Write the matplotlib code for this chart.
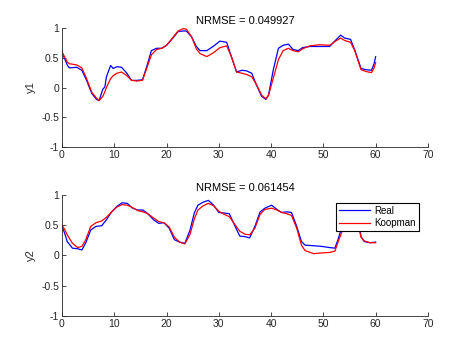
import matplotlib
matplotlib.use("Agg")
import matplotlib.pyplot as plt

plt.rcParams['font.family'] = ['Liberation Sans', 'DejaVu Sans']

# ---- Data ----
t1 = [0, 1, 1.4, 2.8, 3.8, 4.7, 5.7, 6.6, 7.1, 7.8, 8.2, 8.5, 9.3, 9.8, 10.5, 11.4, 12.4, 13.3,
      14.3, 15.4, 16.2, 17.1, 18.1, 19.1, 20.0, 21.3, 22.2, 23.2, 23.8, 24.8, 25.7, 26.4, 27.7,
      28.9, 30.2, 31.5, 32.4, 33.4, 34.4, 35.3, 36.3, 37.2, 38.2, 39.0, 39.5, 40.4, 41.4, 42.3,
      43.3, 44.2, 45.2, 46.0, 47.4, 49.3, 51.2, 52.5, 53.3, 54.1, 55.2, 56.0, 57.2, 58.1, 59.2,
      59.7, 60.0]
y1_real = [0.59, 0.38, 0.33, 0.34, 0.29, 0.12, -0.10, -0.20, -0.22, -0.03, 0.01, 0.18, 0.37, 0.32,
           0.35, 0.34, 0.24, 0.12, 0.12, 0.13, 0.35, 0.62, 0.66, 0.66, 0.71, 0.84, 0.94, 0.95, 0.95,
           0.85, 0.69, 0.62, 0.62, 0.69, 0.78, 0.76, 0.52, 0.26, 0.29, 0.28, 0.24, 0.04, -0.15,
           -0.20, -0.13, 0.29, 0.66, 0.71, 0.73, 0.64, 0.62, 0.67, 0.69, 0.69, 0.69, 0.81, 0.88,
           0.83, 0.81, 0.63, 0.32, 0.30, 0.29, 0.40, 0.52]
y1_koop = [0.60, 0.43, 0.40, 0.38, 0.33, 0.15, -0.08, -0.18, -0.22, -0.15, -0.07, 0.0, 0.15, 0.20,
           0.24, 0.26, 0.20, 0.12, 0.11, 0.12, 0.32, 0.55, 0.64, 0.66, 0.71, 0.85, 0.95, 0.99, 0.98,
           0.85, 0.65, 0.57, 0.52, 0.58, 0.67, 0.70, 0.52, 0.26, 0.24, 0.22, 0.18, 0.05, -0.13,
           -0.19, -0.13, 0.15, 0.47, 0.62, 0.66, 0.62, 0.60, 0.65, 0.70, 0.72, 0.71, 0.79, 0.83,
           0.79, 0.76, 0.62, 0.30, 0.27, 0.25, 0.33, 0.42]

t2 = [0, 0.5, 1, 2, 3, 3.8, 4.5, 5.5, 6.5, 7.6, 8.5, 9.5, 10.5, 11.5, 12.5, 13.5, 14.5, 15.5, 16.4,
      17.5, 18.5, 19.5, 20.5, 21.5, 22.5, 23.5, 24.5, 25.3, 26, 27, 28, 29, 30, 31, 32, 33, 34, 35,
      35.9, 36.9, 37.9, 38.8, 40.1, 41.1, 42.0, 43.0, 43.9, 44.9, 45.8, 46.5, 48.1, 49.6, 51.2,
      52.2, 52.8, 53.8, 55.0, 56.0, 56.8, 57.2, 57.8, 58.9, 60.0]
y2_real = [0.48, 0.37, 0.23, 0.12, 0.11, 0.09, 0.20, 0.42, 0.48, 0.49, 0.59, 0.72, 0.81, 0.87, 0.86,
           0.78, 0.75, 0.75, 0.69, 0.59, 0.53, 0.54, 0.45, 0.26, 0.22, 0.20, 0.42, 0.70, 0.83, 0.88,
           0.91, 0.83, 0.71, 0.70, 0.69, 0.50, 0.32, 0.31, 0.29, 0.48, 0.72, 0.78, 0.83, 0.76, 0.71,
           0.72, 0.71, 0.48, 0.23, 0.17, 0.16, 0.15, 0.13, 0.12, 0.26, 0.55, 0.78, 0.72, 0.53, 0.31,
           0.23, 0.21, 0.22]
y2_koop = [0.50, 0.43, 0.34, 0.20, 0.13, 0.15, 0.25, 0.48, 0.54, 0.57, 0.63, 0.72, 0.80, 0.84, 0.83,
           0.79, 0.74, 0.72, 0.69, 0.62, 0.56, 0.54, 0.47, 0.30, 0.22, 0.19, 0.35, 0.60, 0.75, 0.82,
           0.86, 0.82, 0.73, 0.68, 0.64, 0.52, 0.40, 0.35, 0.34, 0.45, 0.68, 0.76, 0.78, 0.75, 0.71,
           0.69, 0.66, 0.45, 0.17, 0.08, 0.03, 0.04, 0.05, 0.07, 0.22, 0.45, 0.72, 0.70, 0.45, 0.30,
           0.24, 0.21, 0.21]

titles = ["NRMSE = 0.049927", "NRMSE = 0.061454"]
ylabels = ["y1", "y2"]
legend_labels = ["Real", "Koopman"]
xticks = [0, 10, 20, 30, 40, 50, 60, 70]
yticks = [-1, -0.5, 0, 0.5, 1]
ytick_labels = ["-1", "-0.5", "0", "0.5", "1"]

# ---- Figure ----
fig = plt.figure(figsize=(4.74, 3.55), dpi=100)
ax1 = fig.add_axes([0.1308, 0.586, 0.772, 0.335])
ax2 = fig.add_axes([0.1308, 0.110, 0.772, 0.341])

axcol = (0.15, 0.15, 0.15)
series = [(ax1, t1, y1_real, y1_koop), (ax2, t2, y2_real, y2_koop)]
for i, (ax, t, yr, yk) in enumerate(series):
    ax.plot(t, yr, color=(0, 0, 1), lw=0.9, label=legend_labels[0])
    ax.plot(t, yk, color=(1, 0, 0), lw=0.9, label=legend_labels[1])
    ax.set_xlim(0, 70)
    ax.set_ylim(-1, 1)
    ax.set_xticks(xticks)
    ax.set_yticks(yticks)
    ax.set_yticklabels(ytick_labels)
    ax.spines['top'].set_visible(False)
    ax.spines['right'].set_visible(False)
    for s in ('left', 'bottom'):
        ax.spines[s].set_color(axcol)
        ax.spines[s].set_linewidth(0.6)
    ax.tick_params(direction='in', length=3, width=0.6, colors=axcol, labelsize=7.5, pad=2)
    ax.set_title(titles[i], fontsize=8, color='black', pad=3)
    ax.set_ylabel(ylabels[i], fontsize=8, color=axcol, labelpad=4)

leg = ax2.legend(loc='upper right', bbox_to_anchor=(0.975, 0.934), fontsize=7, frameon=True,
                 fancybox=False, edgecolor='black', framealpha=1, handlelength=3.2,
                 borderpad=0.3, labelspacing=0.25, handletextpad=0.4, borderaxespad=0)
leg.get_frame().set_linewidth(0.8)

fig.savefig("out.png", dpi=100)
